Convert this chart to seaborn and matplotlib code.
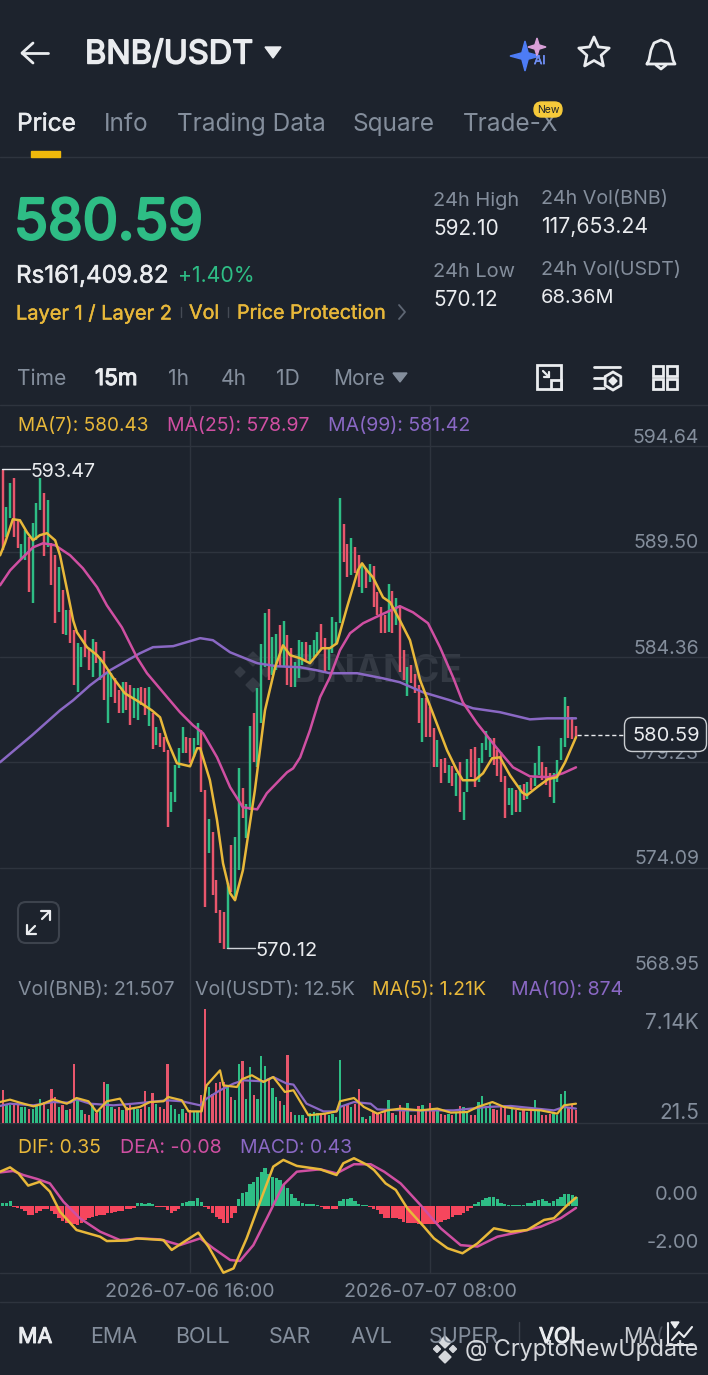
import numpy as np
import pandas as pd
import matplotlib
matplotlib.use("Agg")
import matplotlib.pyplot as plt
import matplotlib.patheffects as pe
from matplotlib.patches import Polygon, Rectangle, FancyBboxPatch
import seaborn as sns

# candles
candle_high = [593.47,591.66,592.83,593.08,591.03,589.86,590.54,590.20,590.88,591.86,
593.08,592.35,592.01,589.91,589.32,588.74,587.62,586.64,586.64,585.66,
585.03,584.84,585.66,584.79,585.23,585.08,584.35,584.64,583.57,583.57,
583.32,582.74,583.13,583.13,582.98,582.84,582.84,582.89,582.84,582.89,
581.62,580.93,580.64,580.45,579.81,577.76,579.08,579.91,580.93,580.45,
580.40,580.40,581.13,580.79,577.86,576.45,575.81,573.47,572.01,571.91,
573.33,575.18,575.57,578.93,577.96,577.18,580.98,581.62,582.84,584.98,
586.49,586.69,585.32,585.47,585.91,586.10,585.42,584.79,584.10,585.18,
585.08,585.08,584.93,585.18,585.57,585.96,585.27,584.84,586.30,586.05,
592.10,590.83,589.86,590.15,589.71,589.32,588.93,588.69,588.88,588.79,
587.52,586.79,586.40,587.91,587.57,587.23,586.84,584.69,583.86,583.96,
583.52,582.98,582.35,582.35,581.91,580.89,580.30,579.37,579.42,579.08,
579.03,578.69,579.23,577.76,579.37,579.86,579.96,579.42,580.15,580.74,
580.40,580.40,579.81,579.71,578.54,577.96,577.96,577.86,578.11,578.15,
578.25,578.45,579.18,580.01,579.23,578.98,578.69,578.69,579.32,580.40,
582.40,581.96,581.42,580.98]
candle_low = [589.57,590.20,591.13,590.20,589.66,589.08,589.08,587.52,586.98,590.05,
591.52,589.27,589.71,587.86,586.01,586.54,585.47,585.42,585.03,582.98,
582.64,583.86,584.35,583.71,583.37,584.06,583.23,582.25,581.13,582.40,
582.10,581.62,581.62,581.76,581.03,581.37,581.28,582.01,581.52,580.98,
579.86,580.06,579.96,579.71,576.06,576.79,577.28,578.93,579.67,579.67,
579.18,579.47,580.06,577.76,572.16,574.79,572.74,571.86,570.40,570.12,
570.12,572.89,572.50,573.96,576.50,575.52,576.89,579.23,578.98,581.13,
583.86,583.23,583.47,583.71,583.86,583.86,582.98,582.89,582.89,583.32,
583.96,584.20,584.06,584.35,584.54,584.69,583.57,583.71,584.54,584.93,
586.01,588.98,588.25,588.35,588.44,587.76,587.47,587.71,588.01,586.79,
586.40,585.52,585.52,585.57,585.52,585.91,583.62,583.23,582.45,583.08,
582.59,581.13,580.20,580.45,580.45,578.98,578.98,578.20,578.69,578.20,
578.06,577.57,576.79,576.40,577.76,578.50,578.01,578.25,579.18,579.81,
579.47,579.08,578.54,578.25,576.50,577.13,576.64,576.79,576.79,577.37,
577.42,577.86,578.06,578.59,578.35,578.11,577.52,577.23,578.25,579.32,
579.96,580.40,580.35,580.45]
candle_side = list("RGGRRGGRGG" "GRGRRGRGRR" "GGRRGRGRGG" "RRGRRGGRRG" "RGRRRGGGGR"
                   "RGGRRGRRRR" "GRGGRGGRGG" "GRGGRGRRGG" "GRGGGRRGGG" "GRRGRRGRGR"
                   "RRRGRGRRGR" "RRGRRRGRRG" "RGRGGRRGGG" "GRRRRGGRGR" "GRGGRRRGGG" "GRRR")

ma7_x = [-0.7,0.6,2.7,4.6,6.5,8.1,9.9,11.8,14,15.3,17.2,18.8,19.8,22.5,25.2,26.8,29.4,32.6,36.6,39.8,
42,43.9,46.5,50,51.9,52.7,55.3,57.2,58.8,60.7,62,64.1,67.3,70,72.7,74.8,76.7,79.4,82,85.2,
87.3,89.2,91.9,94.8,95.9,97.2,98.8,101.5,103.4,106,108.7,111.4,114.8,118.6,121.2,122.8,126,128.2,130.6,132.7,
135.4,138.6,139.9,142.6,145.5,147.9,150.1,153]
ma7_y = [589.32,589.91,591.08,591.03,590.44,590.05,590.30,590.40,590.05,589.32,587.62,586.15,585.57,584.84,584.45,584.10,583.37,582.59,582.15,581.76,
581.42,580.30,579.18,579.03,579.91,579.91,578.35,576.40,574.30,572.84,572.50,573.96,577.86,581.76,583.86,584.93,584.45,584.30,584.06,584.79,
584.79,585.03,586.79,588.59,588.93,588.59,588.25,587.27,587.03,586.15,585.18,583.23,581.62,579.81,578.84,578.35,578.35,578.69,579.42,579.47,
578.59,577.76,577.62,578.01,578.40,578.50,579.23,580.45]
ma25_x = [-0.7,2,4.6,8.1,10.8,14,18,21.4,25.2,27.8,31.8,35.8,38.5,43.9,47.3,50.8,53.5,57.2,60.7,64.1,
67.9,70.5,75.9,77.5,79.4,82,84.7,87.3,90,92.7,96.2,100.7,106,109.5,113.5,116.7,120.2,122.8,126.6,131.9,
136.2,140.7,146.1,149.5,153]
ma25_y = [587.86,588.59,589.08,589.71,589.91,589.81,589.32,588.69,587.76,586.88,585.81,584.35,583.57,582.40,581.67,581.03,580.64,579.47,578.01,577.03,
576.93,577.72,578.74,578.93,579.47,580.79,582.40,583.37,584.69,585.52,586.01,586.40,586.84,586.54,586.01,584.84,583.37,582.15,581.13,579.91,
578.98,578.54,578.50,578.69,578.98]
ma99_x = [-0.7,7.8,15.3,18.8,23.3,28.6,36.6,40.1,45.5,52.7,56.1,60.7,67.9,73.2,79.4,83.9,87.3,94.6,101.5,106,
112.2,119.4,125.5,132.7,140.7,145.3,153]
ma99_y = [579.23,580.54,581.76,582.25,582.98,583.71,584.54,584.84,584.89,585.28,585.18,584.59,584.06,583.91,583.86,583.71,583.57,583.57,583.32,583.13,
582.64,582.25,581.86,581.67,581.32,581.37,581.37]

price_ticks = [594.64, 589.50, 584.36, 579.23, 574.09, 568.95]

volume = [2590,1530,1400,1400,1530,1270,1270,1140,1140,1530,1930,1660,1140,2720,2060,1270,1400,1000,1140,4700,
1930,1000,740,660,1530,820,1000,3250,3120,1270,1140,1270,1000,1270,1530,1140,1140,1140,2510,1270,
2400,1530,1270,1140,4650,1450,1140,740,1140,820,1000,870,870,2190,9060,2850,2320,3190,3250,3250,
2850,2060,1800,4700,4910,1930,4440,2240,1930,5310,4510,3510,2770,2060,1720,1400,5360,870,610,660,
660,400,820,870,820,740,740,660,740,480,4960,1400,1450,1270,1530,2670,480,340,550,870,
790,740,870,1800,820,610,1450,1000,1610,610,610,1350,1400,1000,1610,1140,1000,740,660,740,
660,870,1350,1270,920,610,660,1660,2110,1270,1530,1140,1000,1400,1450,610,1140,1000,870,1000,
870,1000,1800,1000,610,610,740,870,610,2320,2510,1270,1530,1060]
vol_ma5_x = [-0.7,1.95,4.6,8.2,10.8,13.5,17.1,19.7,22.9,25.1,27.8,31.3,33.1,36.6,39.3,42.9,44.2,47.8,49.6,53.1,
54.4,58,58.9,62.5,63.8,66.5,69.6,72.2,75.3,77.6,81.6,86,89.1,90,93.75,96.4,100,102.6,106.2,111.5,
116,119.6,124,126.7,130.7,133.8,138.2,143.6,148,149.8,153]
vol_ma5_y = [1660,1850,1610,1320,1530,1870,1530,1980,1720,870,1720,1930,1080,1270,1660,1720,2060,1800,920,920,
2980,4170,2980,2850,3460,3780,3250,3640,2460,2590,610,740,920,1720,1980,1270,740,1000,1140,1000,
1140,820,870,1270,1660,1270,1080,1000,740,1400,1530]
vol_ma10_x = [-0.7,1.95,8.2,13.5,18,19.7,23.3,29.5,34.9,43.8,47.8,52.7,54.4,58,61.6,64.2,69.6,72.2,75.8,77.6,
81.1,85.6,89.1,90,93.75,98.2,100,107.1,120.4,129.3,135.6,147.1,149.8,153]
vol_ma10_y = [1350,1530,1400,1660,1610,1870,1530,1400,1530,1800,1720,1400,1930,2590,3120,3380,3300,3640,3120,3040,
1530,920,920,1270,1660,1530,1080,1000,1000,1270,1350,1000,1270,1140]
vol_ticks = [7140, 21.5]
vol_tick_labels = ["7.14K", "21.5"]

macd_hist = [.14,.14,.21,-.04,-.08,-.14,-.22,-.39,-.36,-.28,-.22,-.14,-.11,-.21,-.35,-.49,-.63,-.69,-.72,-.76,
-.81,-.69,-.58,-.49,-.44,-.42,-.39,-.39,-.31,-.28,-.25,-.21,-.19,-.14,-.14,-.08,.11,.11,.08,.11,
.07,-.03,-.06,-.06,-.17,-.31,-.22,-.11,.14,.17,.19,.22,.33,.17,-.06,-.14,-.31,-.44,-.56,-.72,
-.69,-.49,-.28,.29,.53,.60,.90,1.01,1.22,1.43,1.57,1.33,1.22,1.15,1.08,.88,.76,.49,.35,.21,
.14,.10,.07,.07,.06,-.04,-.11,-.14,-.14,-.11,.21,.28,.31,.35,.21,.07,.04,.03,-.04,-.11,
-.17,-.35,-.49,-.49,-.49,-.49,-.53,-.67,-.69,-.72,-.72,-.76,-.76,-.76,-.76,-.76,-.72,-.67,-.58,-.53,
-.44,-.39,-.36,-.28,-.21,-.07,.10,.17,.25,.33,.39,.39,.28,.11,.07,.04,.03,.06,.04,.06,
.11,.14,.19,.25,.28,.19,.11,.21,.31,.39,.49,.50,.46,.39]
dif_x = [-0.7,1.95,4.2,6.8,9.9,12.6,15.3,19.7,26,27.8,33.1,35.8,42.9,45.1,49.1,52.2,54.9,58.9,61.6,65.1,
68.7,72.2,74.9,78.5,84.7,89.1,90.9,93.75,97.3,99.1,102.2,104.9,108,112.4,115.1,118.7,122.7,126.7,131.1,135.6,
140,144.5,147.1,150.7,153]
dif_y = [1.43,1.61,1.36,.85,1.01,.60,-.24,-1.0,-1.28,-1.46,-1.44,-1.35,-1.42,-1.83,-1.42,-1.11,-1.69,-2.78,-2.60,-1.35,
.18,1.64,1.92,1.67,1.53,1.29,1.78,1.99,1.71,1.5,.94,.67,-.10,-.86,-1.35,-1.76,-1.97,-1.56,-.93,-1.07,
-1.0,-.58,-.51,.04,.35]
dea_x = [-0.7,2.8,5.5,9.1,12.6,16.2,20.6,26,31.3,36.6,42,47.3,52.7,56.2,60.7,63.3,66.9,70.5,74.9,78.5,
84.7,89.1,93.75,98.2,101.8,106.2,111.5,116.9,122.2,126.7,132,138.2,143.6,148.9,153]
dea_y = [1.40,1.46,1.29,1.13,.94,.18,-.51,-1.07,-1.42,-1.35,-1.39,-1.63,-1.35,-1.76,-2.25,-2.29,-1.63,-.51,.88,1.43,
1.53,1.36,1.74,1.74,1.43,.94,.04,-.93,-1.63,-1.69,-1.28,-1.07,-.86,-.51,-.08]
macd_ticks = [0.0, -2.0]
macd_tick_labels = ["0.00", "-2.00"]

date_labels = ["2026-07-06 16:00", "2026-07-07 08:00"]

BG = "#1d232d"
GRID = "#2e343e"
GREY = "#848e9c"
YELLOW = "#e8b83a"
PINK = "#cf4fa2"
PURPLE = "#8a68c4"
GREEN = "#2ebd85"
RED = "#e8566c"
WHITE = "#eaecef"
LW = 1.8

sns.set_theme(style="dark", rc={"figure.facecolor": BG, "axes.facecolor": BG})
plt.rcParams["font.family"] = ["Inter", "DejaVu Sans"]

W, H = 708, 1375
fig = plt.figure(figsize=(W / 100, H / 100), dpi=100)


def pixel_axes(zorder):
    ax = fig.add_axes([0, 0, 1, 1], zorder=zorder)
    ax.set_xlim(0, W)
    ax.set_ylim(H, 0)
    ax.axis("off")
    ax.patch.set_alpha(0)
    return ax


back = pixel_axes(0)
ui = pixel_axes(10)


def panel(top, bottom):
    ax = fig.add_axes([0, 1 - bottom / H, 1, (bottom - top) / H], zorder=1)
    ax.set_xlim(-0.72, W / 3.747 - 0.72)
    ax.patch.set_alpha(0)
    sns.despine(ax=ax, left=True, bottom=True)
    return ax


def finish(ax):
    ax.set_xlabel("")
    ax.set_ylabel("")
    ax.set_xticks([])
    ax.set_yticks([])
    ax.set_xlim(-0.72, W / 3.747 - 0.72)


def tick_label(ax, value, label, pad=7.8, size=14):
    ax.annotate(label, (699 / W, value), xycoords=ax.get_yaxis_transform(), xytext=(0, pad),
                textcoords="offset points", ha="right", va="center", color=GREY, fontsize=size)


def ma_line(ax, xs, ys, color, lw=LW):
    sns.lineplot(x=xs, y=ys, color=color, linewidth=lw, sort=False, errorbar=None, ax=ax, zorder=5,
                 solid_joinstyle="round", solid_capstyle="round")


def txt(x, y, s, px, color=WHITE, weight="normal", ha="left"):
    t = ui.text(x, y + 0.09 * px, s, fontsize=px * 0.72, color=color, ha=ha, va="center")
    if weight == "bold":
        t.set_path_effects([pe.withStroke(linewidth=px * 0.035, foreground=color)])
    elif weight == "medium":
        t.set_path_effects([pe.withStroke(linewidth=px * 0.015, foreground=color)])
    return t


# rules sit behind the marks
for y in [157, 405, 1123, 1273, 1302]:
    back.plot([0, W], [y, y], color=GRID, lw=1)
for x in [190, 430]:
    back.plot([x, x], [406, 1273], color=GRID, lw=1)

# watermark in the chart
back.text(377, 672, "BINANCE", fontsize=27, color="#343a44", fontweight="bold", ha="center", va="center")
for cx, cy, r in [(253, 659, 7), (240, 672, 5), (266, 672, 5), (253, 685, 7)]:
    back.add_patch(Polygon([[cx, cy - r], [cx + r, cy], [cx, cy + r], [cx - r, cy]], closed=True, color="#343a44"))

# price panel
price_ax = panel(406, 973)
price_ax.set_ylim(568.95, 568.95 + (973 - 406) * 0.04877)
for tick in price_ticks[:-1]:
    price_ax.axhline(tick, color=GRID, lw=1, zorder=0)
for tick in price_ticks:
    tick_label(price_ax, tick, f"{tick:.2f}", pad=6.1)
idx = np.arange(len(candle_high))
colors = [GREEN if s == "G" else RED for s in candle_side]
price_ax.vlines(idx, candle_low, candle_high, colors=colors, lw=1.75, zorder=3)
ma_line(price_ax, ma99_x, ma99_y, PURPLE)
ma_line(price_ax, ma25_x, ma25_y, PINK)
ma_line(price_ax, ma7_x, ma7_y, YELLOW)
finish(price_ax)

# volume panel
vol_ax = panel(975, 1123)
vol_df = pd.DataFrame({"i": idx, "vol": volume, "side": candle_side})
sns.barplot(data=vol_df, x="i", y="vol", hue="side", palette={"G": GREEN, "R": RED}, native_scale=True,
            dodge=False, width=0.62, saturation=1, linewidth=0, legend=False, ax=vol_ax)
ma_line(vol_ax, vol_ma10_x, vol_ma10_y, PURPLE, lw=1.6)
ma_line(vol_ax, vol_ma5_x, vol_ma5_y, YELLOW, lw=1.6)
vol_ax.set_ylim(0, 148 * 79.2)
for tick, label in zip(vol_ticks, vol_tick_labels):
    tick_label(vol_ax, tick, label, pad=6.8, size=15)
finish(vol_ax)

# macd panel
macd_ax = panel(1124, 1273)
macd_df = pd.DataFrame({"i": idx, "hist": macd_hist})
macd_df["sign"] = np.where(macd_df["hist"] >= 0, "G", "R")
sns.barplot(data=macd_df, x="i", y="hist", hue="sign", palette={"G": GREEN, "R": "#f6465d"}, native_scale=True,
            dodge=False, width=0.9, saturation=1, linewidth=0, legend=False, ax=macd_ax)
ma_line(macd_ax, dea_x, dea_y, PINK)
ma_line(macd_ax, dif_x, dif_y, YELLOW)
macd_ax.set_ylim(-(1273 - 1206) / 24, (1206 - 1124) / 24)
for line in macd_ax.lines:
    line.set_clip_on(False)
for tick, label in zip(macd_ticks, macd_tick_labels):
    tick_label(macd_ax, tick, label, size=14.4)
finish(macd_ax)

# header
txt(85, 52, "BNB/USDT", 32.5, WHITE, "bold")
ui.plot([22, 48], [53, 53], color=WHITE, lw=2)
ui.plot([33, 22, 33], [43, 53, 63], color=WHITE, lw=2)
ui.add_patch(Polygon([[265, 47], [281, 47], [273, 58]], closed=True, color=WHITE))


def star_points(cx, cy, r, inner, n=5, start=-90):
    pts = []
    for k in range(2 * n):
        rad = r if k % 2 == 0 else inner
        ang = np.deg2rad(start + k * 180 / n)
        pts.append([cx + rad * np.cos(ang), cy + rad * np.sin(ang)])
    return pts


ui.add_patch(Polygon(star_points(594, 53, 16, 7.5), closed=True, fill=False, ec=WHITE, lw=2, joinstyle="round"))
ui.add_patch(Polygon(star_points(525, 56, 15, 4.5, n=4), closed=True, color="#4d7cf5"))
ui.add_patch(Polygon(star_points(537, 47, 9, 3, n=4), closed=True, color="#d9a0d8"))
txt(534, 60, "AI", 12, "#6f8ff5", "bold")
# bell
bx = np.array([647, 649, 651, 654, 661, 668, 671, 673, 675, 647])
by = np.array([64, 60, 50, 43, 40, 43, 50, 60, 64, 64])
ui.plot(bx, by, color=WHITE, lw=2)
ui.plot([656, 661, 666], [65, 69, 65], color=WHITE, lw=2)

# tabs
txt(17, 122, "Price", 24.4, WHITE, "medium")
for x, s in [(104, "Info"), (177, "Trading Data"), (352, "Square"), (463, "Trade-X")]:
    txt(x, 122, s, 24.4, GREY)
ui.add_patch(FancyBboxPatch((534, 102), 28, 15, boxstyle="round,pad=0,rounding_size=7.5", color="#f5c93a", zorder=11))
ui.text(548, 109.5, "New", fontsize=7.5, color="#1e2329", ha="center", va="center", zorder=12)
ui.add_patch(Rectangle((31, 151), 29, 6, color="#f0b90b"))

# ticker block
txt(14, 219, "580.59", 56, GREEN, "bold")
txt(16, 274, "Rs161,409.82", 24.2, WHITE, "medium")
txt(178, 274, "+1.40%", 21.3, GREEN)
txt(16, 312, "Layer 1 / Layer 2", 20, YELLOW, "medium")
txt(189, 312, "Vol", 19.7, YELLOW, "medium")
txt(237, 312, "Price Protection", 19.7, YELLOW, "medium")
back.plot([181, 181], [307, 317], color="#454b55", lw=1)
back.plot([228, 228], [307, 317], color="#454b55", lw=1)
ui.plot([399, 405, 399], [305, 312, 319], color="#5e6673", lw=1.3)
txt(433, 199, "24h High", 20, GREY)
txt(433, 227, "592.10", 20.8, WHITE)
txt(433, 270, "24h Low", 20, GREY)
txt(433, 298, "570.12", 20.8, WHITE)
txt(541, 197, "24h Vol(BNB)", 19.7, GREY)
txt(541, 225, "117,653.24", 21.3, WHITE)
txt(541, 268, "24h Vol(USDT)", 19.6, GREY)
txt(541, 296, "68.36M", 20, WHITE)

# interval bar
txt(17, 377, "Time", 21, GREY)
txt(95, 377, "15m", 22.5, WHITE, "bold")
for x, s in [(168, "1h"), (221, "4h"), (276, "1D"), (333, "More")]:
    txt(x, 377, s, 21, GREY)
ui.add_patch(Polygon([[393, 373], [407, 373], [400, 382]], closed=True, color=GREY))
ui.add_patch(Rectangle((537, 365), 24, 24, fill=False, ec=WHITE, lw=2))
ui.add_patch(Rectangle((551, 380), 10, 9, fc=BG, ec=WHITE, lw=2))
ui.plot([543, 549], [371, 377], color=WHITE, lw=1.6)
ui.plot([544, 549, 549], [377, 377, 372], color=WHITE, lw=1.6)
ui.plot([594, 620], [367, 367], color=WHITE, lw=2)
ui.plot([594, 604], [378, 378], color=WHITE, lw=2)
ui.plot([594, 604], [388, 388], color=WHITE, lw=2)
ui.add_patch(Polygon(star_points(613, 381, 9, 9, n=3), closed=True, fill=False, ec=WHITE, lw=2))
ui.add_patch(Polygon([[613, 377], [617, 381], [613, 385], [609, 381]], closed=True, color=WHITE))
for x0 in [653, 667]:
    for y0 in [366, 379]:
        ui.add_patch(Rectangle((x0, y0), 10, 10, fill=False, ec=WHITE, lw=2))

# indicator legends
txt(18, 424, "MA(7): 580.43", 19, YELLOW)
txt(167, 424, "MA(25): 578.97", 19.4, PINK)
txt(328, 424, "MA(99): 581.42", 19.5, PURPLE)
txt(18, 988, "Vol(BNB): 21.507", 19.6, GREY)
txt(195, 988, "Vol(USDT): 12.5K", 19.6, GREY)
txt(372, 988, "MA(5): 1.21K", 19.4, YELLOW)
txt(511, 988, "MA(10): 874", 19.5, PURPLE)
txt(18, 1146, "DIF: 0.35", 19.4, YELLOW)
txt(120, 1146, "DEA: -0.08", 19.6, PINK)
txt(240, 1146, "MACD: 0.43", 19.4, PURPLE)

# price callouts
ui.plot([2, 30], [469, 469], color=WHITE, lw=1)
txt(30, 470, "593.47", 19.6, WHITE)
ui.plot([227, 255], [948, 948], color="#cfd3d8", lw=1)
txt(255, 949, "570.12", 20, WHITE)
ui.plot([577, 624], [735, 735], color=WHITE, lw=1, ls=(0, (3, 2)))
ui.add_patch(FancyBboxPatch((624.5, 717.5), 82, 34, boxstyle="round,pad=0,rounding_size=8", fc=BG, ec="#c8ccd0", lw=1))
txt(666, 734.5, "580.59", 20, WHITE, ha="center")

# expand button
ui.add_patch(FancyBboxPatch((18, 902), 41, 41, boxstyle="round,pad=0,rounding_size=8", fc=BG, ec="#3d434d", lw=1.5))
ui.plot([41, 50, 50], [911, 911, 920], color=WHITE, lw=1.6)
ui.plot([42, 50], [919, 911], color=WHITE, lw=1.6)
ui.plot([27, 27, 36], [925, 934, 934], color=WHITE, lw=1.6)
ui.plot([27, 35], [934, 926], color=WHITE, lw=1.6)

# dates
for x, s in zip([190, 430], date_labels):
    txt(x, 1290, s, 19.6, GREY, ha="center")

# bottom strip
txt(18, 1335, "MA", 21.5, WHITE, "bold")
for x, s in [(90, "EMA"), (175, "BOLL"), (269, "SAR"), (350, "AVL"), (429, "SUPER")]:
    txt(x, 1335, s, 21.5, GREY)
back.plot([519, 519], [1322, 1348], color="#3d434d", lw=1)
txt(539, 1335, "VOL", 21.5, WHITE, "bold")
txt(623, 1335, "MA", 21.5, "#c5c9cf")
txt(656, 1335, "(", 21.5, "#4a505a")
ui.plot([668, 668, 693], [1323, 1345, 1345], color=WHITE, lw=1.5)
ui.plot([672, 679, 684, 692], [1340, 1332, 1337, 1327], color=WHITE, lw=1.5)
ui.add_patch(Polygon([[671, 1322], [679, 1322], [675, 1328]], closed=True, color=WHITE))

# credit across the strip
txt(465, 1348, "@ CryptoNewUpdate", 23.3, "#d5d8dc")
for cx, cy, r in [(445, 1342, 6), (437, 1349, 3.5), (453, 1349, 3.5), (445, 1357, 6)]:
    ui.add_patch(Polygon([[cx, cy - r], [cx + r, cy], [cx, cy + r], [cx - r, cy]], closed=True, color="#d5d8dc"))

fig.savefig("out.png", dpi=100, facecolor=BG)
